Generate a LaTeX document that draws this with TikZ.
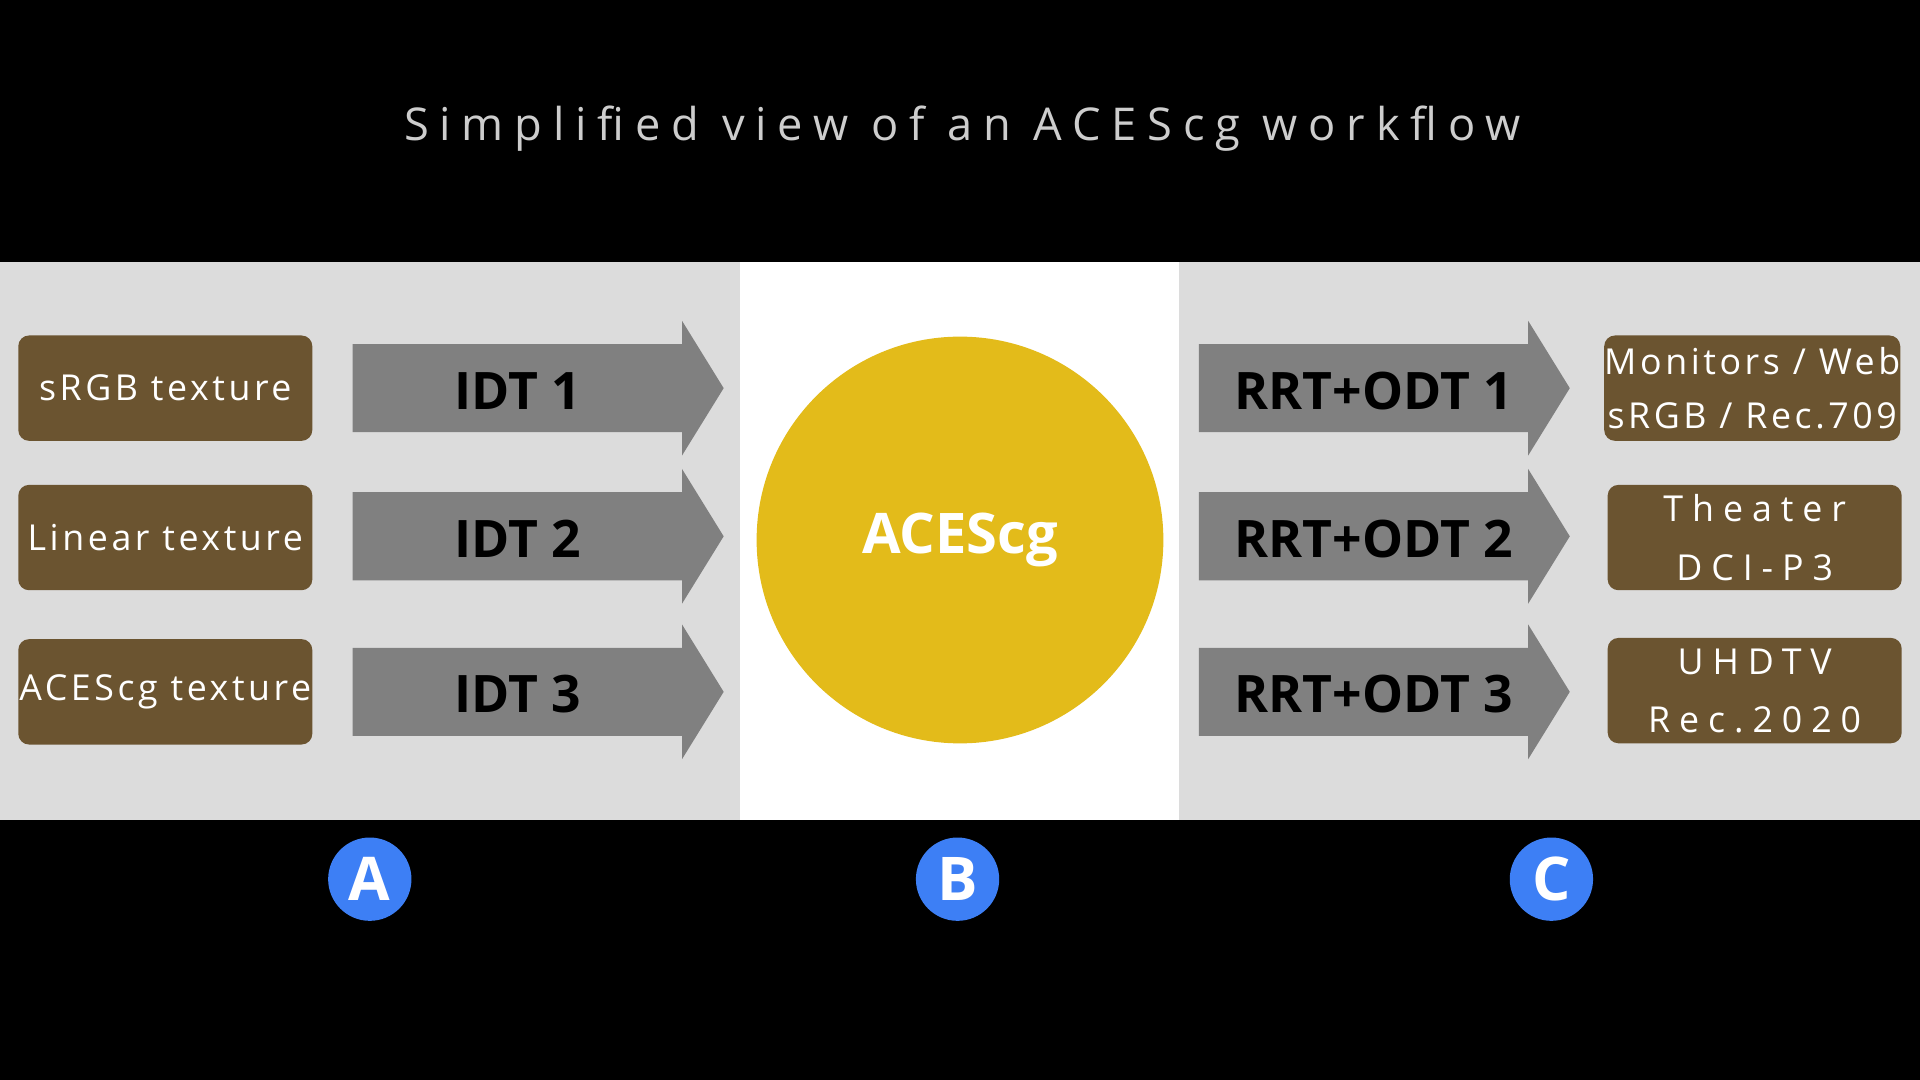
\documentclass[tikz,border=0pt]{standalone}
\usepackage{fontspec}
\setmainfont{Open Sans}
\newfontfamily\wide[LetterSpace=10]{Open Sans}
\newfontfamily\widebig[LetterSpace=25]{Open Sans}
\newfontfamily\widetitle[LetterSpace=24]{Open Sans}
\begin{document}
\begin{tikzpicture}[x=0.01cm,y=-0.01cm,
  box/.style={fill=boxc,rounded corners=2.5pt,minimum width=2.4cm,minimum height=0.86cm,text=white,font=\wide\fontsize{8.3}{11}\selectfont,align=center,inner sep=0pt},
  lbl/.style={font=\bfseries\fontsize{12}{14}\selectfont,text=black},
  badge/.style={circle,fill=bluec,minimum size=0.68cm,inner sep=0pt,text=white,font=\bfseries\fontsize{14}{16}\selectfont}]
\definecolor{boxc}{HTML}{6B5430}
\definecolor{grayc}{HTML}{DCDCDC}
\definecolor{arrc}{HTML}{808080}
\definecolor{yel}{HTML}{E3BB1A}
\definecolor{bluec}{HTML}{3D7FF5}
\fill[black] (0,0) rectangle (1568,882);
\useasboundingbox (0,0) rectangle (1568,882);
\fill[grayc] (0,214) rectangle (604,670);
\fill[white] (604,214) rectangle (963,670);
\fill[grayc] (963,214) rectangle (1568,670);
\node[text={rgb,255:red,205;green,205;blue,205},font=\widetitle\fontsize{10.5}{13}\selectfont] (title) at (786,105) {Simplified view of an ACEScg workflow};
\foreach \y/\n in {317/1,438/2,565/3}{
  \fill[arrc] (288,\y-36) -- (557,\y-36) -- (557,\y-55) -- (591,\y) -- (557,\y+55) -- (557,\y+36) -- (288,\y+36) -- cycle;
  \node[lbl] (idt\n) at (423,\y+2) {IDT \n};
  \fill[arrc] (979,\y-36) -- (1248,\y-36) -- (1248,\y-55) -- (1282,\y) -- (1248,\y+55) -- (1248,\y+36) -- (979,\y+36) -- cycle;
  \node[lbl] (odt\n) at (1122,\y+2) {RRT+ODT \n};
}
\node[box] (s1) at (135,317) {sRGB texture};
\node[box] (s2) at (135,439) {Linear texture};
\node[box] (s3) at (135,565) {ACEScg texture};
\node[box,font=\wide\fontsize{8.3}{12.5}\selectfont] (d1) at (1431,317) {Monitors / Web\\sRGB / Rec.709};
\node[box,font=\widebig\fontsize{8.3}{13.5}\selectfont] (d2) at (1433,439) {Theater\\DCI-P3};
\node[box,font=\widebig\fontsize{8.3}{13.5}\selectfont] (d3) at (1433,564) {UHDTV\\Rec.2020};
\node[circle,fill=yel,minimum size=3.32cm,inner sep=0pt,text=white,font=\bfseries\fontsize{13}{16}\selectfont] (aces) at (784,441) {ACEScg};
\node[badge] (A) at (302,718) {A};
\node[badge] (B) at (782,718) {B};
\node[badge] (C) at (1267,718) {C};
\end{tikzpicture}
\end{document}
